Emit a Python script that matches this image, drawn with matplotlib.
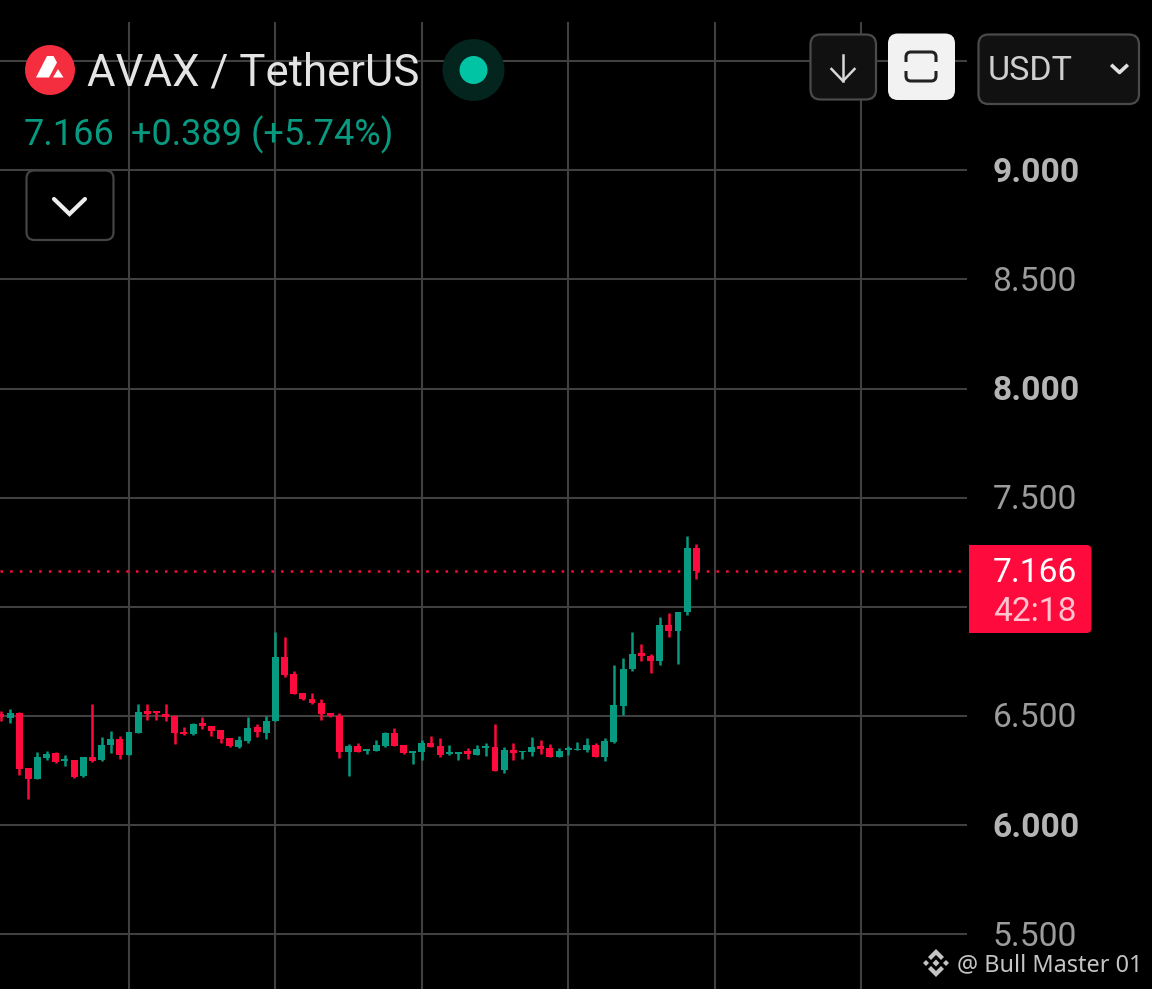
import matplotlib
matplotlib.use("Agg")
import matplotlib.pyplot as plt
from matplotlib.patches import Circle, FancyBboxPatch, Polygon, Rectangle, PathPatch
from matplotlib.path import Path

# ---- data ----
opens = [6.509,6.490,6.513,6.261,6.211,6.307,6.330,6.293,6.298,6.225,6.312,6.298,6.367,6.394,
         6.321,6.422,6.522,6.522,6.509,6.500,6.426,6.417,6.467,6.454,6.435,6.399,6.357,6.385,6.449,6.422,
         6.477,6.770,6.692,6.605,6.577,6.559,6.513,6.500,6.335,6.362,6.339,6.339,6.362,6.422,6.367,6.330,
         6.335,6.376,6.362,6.325,6.325,6.339,6.321,6.353,6.357,6.252,6.344,6.335,6.335,6.362,6.353,6.312,
         6.344,6.344,6.344,6.367,6.312,6.380,6.545,6.715,6.788,6.775,6.752,6.917,6.889,6.976,7.269]
highs = [6.522,6.531,6.518,6.261,6.335,6.339,6.335,6.321,6.298,6.312,6.555,6.403,6.431,6.408,
         6.426,6.555,6.555,6.522,6.555,6.504,6.449,6.467,6.495,6.454,6.435,6.399,6.408,6.495,6.463,6.500,
         6.885,6.862,6.706,6.605,6.605,6.577,6.513,6.513,6.371,6.376,6.348,6.390,6.426,6.445,6.367,6.339,
         6.390,6.408,6.399,6.367,6.335,6.353,6.367,6.376,6.463,6.357,6.376,6.339,6.403,6.390,6.371,6.353,
         6.362,6.380,6.399,6.376,6.399,6.733,6.765,6.885,6.830,6.784,6.953,6.972,6.976,7.324,7.288]
lows = [6.477,6.467,6.229,6.119,6.211,6.298,6.284,6.270,6.215,6.220,6.289,6.293,6.330,6.302,
        6.321,6.422,6.481,6.481,6.477,6.371,6.412,6.412,6.440,6.408,6.376,6.357,6.353,6.376,6.403,6.394,
        6.477,6.678,6.600,6.573,6.555,6.481,6.495,6.307,6.225,6.335,6.325,6.339,6.357,6.362,6.325,6.280,
        6.298,6.357,6.312,6.321,6.298,6.302,6.321,6.316,6.247,6.238,6.298,6.302,6.316,6.325,6.312,6.312,
        6.321,6.344,6.335,6.312,6.293,6.376,6.504,6.706,6.752,6.697,6.733,6.862,6.738,6.962,7.127]
closes = [6.495,6.513,6.257,6.211,6.312,6.325,6.289,6.302,6.220,6.312,6.293,6.367,6.394,6.321,
          6.426,6.518,6.509,6.513,6.495,6.422,6.417,6.463,6.454,6.431,6.394,6.362,6.390,6.445,6.426,6.477,
          6.770,6.687,6.600,6.577,6.559,6.509,6.500,6.335,6.362,6.335,6.348,6.367,6.422,6.362,6.330,6.339,
          6.376,6.357,6.321,6.335,6.335,6.325,6.348,6.362,6.247,6.344,6.330,6.339,6.357,6.348,6.312,6.339,
          6.353,6.348,6.367,6.312,6.385,6.550,6.715,6.784,6.775,6.752,6.917,6.889,6.976,7.269,7.166]

price_levels = [5.5, 6.0, 6.5, 7.0, 7.5, 8.0, 8.5, 9.0, 9.5]
price_labels = {5.5: "5.500", 6.0: "6.000", 6.5: "6.500", 7.0: None, 7.5: "7.500",
                8.0: "8.000", 8.5: "8.500", 9.0: "9.000"}
bold_levels = [6.0, 8.0, 9.0]
time_grid = [14, 30, 46, 62, 78, 94]
last_price = 7.166

UP = "#089981"
DOWN = "#FF0A3C"
GRID = "#404040"

fig = plt.figure(figsize=(11.52, 9.89), dpi=100, facecolor="black")
ax = fig.add_axes([0, 0, 1, 1], facecolor="black")
ax.set_xlim(-0.098, 125.8)
ax.set_ylim(5.248, 9.781)
ax.axis("off")

grid_right = 967 / 1152
ax.hlines(price_levels, 0, grid_right, transform=ax.get_yaxis_transform(),
          colors=GRID, lw=1.5, zorder=1)
ax.vlines(time_grid, 5.248, 9.68, colors=GRID, lw=1.5, zorder=1)

# candles
for i, (o, h, l, c) in enumerate(zip(opens, highs, lows, closes)):
    col = UP if c >= o else DOWN
    ax.vlines(i, l, h, colors=col, lw=1.8, zorder=3)
    ax.bar(i, max(abs(c - o), 0.006), bottom=min(o, c), width=0.76, color=col,
           linewidth=0, zorder=3)

# last price line
ax.hlines([last_price], 0, grid_right, transform=ax.get_yaxis_transform(),
          colors=DOWN, lw=1.8, linestyles=(0, (1, 2.87)), zorder=2)

# price labels
for lv, txt in price_labels.items():
    if txt is None:
        continue
    bold = lv in bold_levels
    ax.text(992.5 / 1152, lv + 0.004, txt, transform=ax.get_yaxis_transform(), family="Roboto",
            fontsize=24.2, va="center_baseline", ha="left",
            color="#B4B4B4" if bold else "#9C9C9C", fontweight="bold" if bold else "normal",
            zorder=4)

# ---- overlay in pixel space ----
ui = fig.add_axes([0, 0, 1, 1], facecolor="none")
ui.set_xlim(0, 1152)
ui.set_ylim(989, 0)
ui.axis("off")

def rbox(x0, y0, x1, y1, r, fc, ec="none", lw=0):
    ui.add_patch(FancyBboxPatch((x0 + r, y0 + r), x1 - x0 - 2 * r, y1 - y0 - 2 * r,
                                boxstyle=f"round,pad={r},rounding_size={r}",
                                fc=fc, ec=ec, lw=lw, zorder=5))

# logo
ui.add_patch(Circle((50, 70), 25, fc="#F42D3F", ec="none", zorder=5))
ui.add_patch(Polygon([(36, 77.5), (47, 56), (53.5, 56), (57, 62.5), (49, 77.5)], fc="white", ec="none", zorder=6))
ui.add_patch(Polygon([(53, 77.5), (58, 69), (63.5, 77.5)], fc="white", ec="none", zorder=6))
ui.text(87, 85, "AVAX / TetherUS", family="Roboto", fontsize=31.5, color="#E4E4E4", va="baseline", zorder=6)

# status dot
ui.add_patch(Circle((473.5, 70), 31, fc="#04241E", ec="none", zorder=5))
ui.add_patch(Circle((473.5, 70), 14, fc="#00C4A4", ec="none", zorder=6))

ui.text(24, 145, "7.166", family="Roboto", fontsize=26, color=UP, va="baseline", zorder=6)
ui.text(131, 145, "+0.389 (+5.74%)", family="Roboto", fontsize=26, color=UP, va="baseline", zorder=6)

# collapse button
rbox(26.5, 170.5, 113.5, 240, 8, "#000000", "#444444", 1.6)
ui.plot([54, 69.5, 85], [199, 214, 199], color="#EDEDED", lw=3, solid_capstyle="round", solid_joinstyle="miter", zorder=6)

# arrow button
rbox(810.5, 34.5, 876, 99.5, 10, "#111111", "#4A4A4A", 1.6)
ui.plot([843, 843], [55, 81], color="#D8D8D8", lw=1.8, zorder=6)
ui.plot([831.5, 843, 854.5], [69, 81, 69], color="#D8D8D8", lw=1.8, zorder=6)

# fullscreen button
rbox(888, 33.5, 955, 100, 10, "#F2F2F2")
icon = "#222222"
C3 = Path.CURVE3
top = Path([(906, 62), (906, 57), (906, 52), (911, 52), (931, 52), (936, 52), (936, 57), (936, 62)],
           [Path.MOVETO, Path.LINETO, C3, C3, Path.LINETO, C3, C3, Path.LINETO])
bottom = Path([(906, 71), (906, 76), (906, 81), (911, 81), (931, 81), (936, 81), (936, 76), (936, 71)],
              [Path.MOVETO, Path.LINETO, C3, C3, Path.LINETO, C3, C3, Path.LINETO])
ui.add_patch(PathPatch(top, fc="none", ec=icon, lw=2.2, zorder=6))
ui.add_patch(PathPatch(bottom, fc="none", ec=icon, lw=2.2, zorder=6))

# currency button
rbox(978.5, 34.5, 1139, 104, 10, "#111111", "#4A4A4A", 1.6)
ui.text(988, 80, "USDT", family="Roboto", fontsize=24.5, color="#CFCFCF", va="baseline", zorder=6)
ui.plot([1112.5, 1119.5, 1126.5], [66, 72.5, 66], color="#E0E0E0", lw=2.6, zorder=6)

# last price tag
ui.add_patch(Rectangle((969, 545), 100, 88, fc="#FF0A3C", ec="none", zorder=5))
rbox(1040, 545, 1091.5, 633, 5, "#FF0A3C")
ui.text(1034.5, 582, "7.166", family="Roboto", fontsize=24.2, color="white", ha="center", va="baseline", zorder=6)
ui.text(1034.5, 621, "42:18", family="Roboto", fontsize=24.2, color="#FFC4D0", ha="center", va="baseline", zorder=6)

# watermark
wm = "#C4C4C4"
cx, cy = 936, 963
ui.add_patch(Polygon([(cx, cy - 14), (cx + 8, cy - 6), (cx + 5, cy - 3), (cx, cy - 8), (cx - 5, cy - 3), (cx - 8, cy - 6)], fc=wm, ec="none", zorder=6))
ui.add_patch(Polygon([(cx, cy + 14), (cx + 8, cy + 6), (cx + 5, cy + 3), (cx, cy + 8), (cx - 5, cy + 3), (cx - 8, cy + 6)], fc=wm, ec="none", zorder=6))
ui.add_patch(Polygon([(cx, cy - 3.5), (cx + 3.5, cy), (cx, cy + 3.5), (cx - 3.5, cy)], fc=wm, ec="none", zorder=6))
ui.add_patch(Polygon([(cx - 13, cy), (cx - 10, cy - 3), (cx - 7, cy), (cx - 10, cy + 3)], fc=wm, ec="none", zorder=6))
ui.add_patch(Polygon([(cx + 13, cy), (cx + 10, cy - 3), (cx + 7, cy), (cx + 10, cy + 3)], fc=wm, ec="none", zorder=6))
ui.text(957, 971, "@ Bull Master 01", family="Noto Sans", fontsize=16.9, color=wm, va="baseline", zorder=6)

fig.savefig("out.png", dpi=100, facecolor="black")
